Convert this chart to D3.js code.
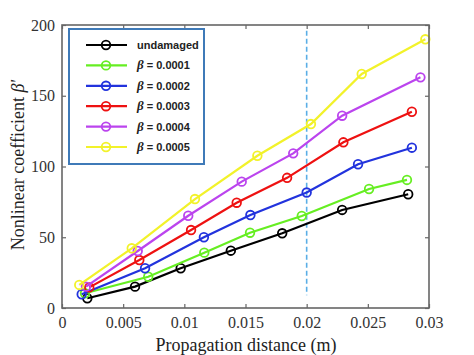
<!DOCTYPE html>
<html><head><meta charset="utf-8">
<script src="https://cdn.jsdelivr.net/npm/d3@7"></script>
<style>body{margin:0;background:#fff}</style>
</head><body><svg id="c" width="474" height="355"></svg>
<script>
const seriesNames = ["undamaged","0.0001","0.0002","0.0003","0.0004","0.0005"];
const seriesColors = ["#000000","#66ee22","#2233dd","#ee1111","#bb44ee","#f2f22a"];
const xUndamaged = [0.00207,0.00597,0.0097,0.0138,0.0180,0.0229,0.0283];
const yUndamaged = [6.9,15.1,28.1,40.5,52.8,69.3,80.4];
const x0001 = [0.00188,0.00705,0.01163,0.01537,0.0196,0.0251,0.0282];
const y0001 = [10.4,22.1,39.1,53.2,65.0,84.1,90.5];
const x0002 = [0.00161,0.00679,0.0116,0.0154,0.0200,0.0242,0.0286];
const y0002 = [9.7,28.1,50.0,65.7,81.6,101.6,113.3];
const x0003 = [0.00223,0.00632,0.01055,0.01428,0.0184,0.0230,0.0286];
const y0003 = [14.6,33.9,55.1,74.4,92.0,117.1,138.7];
const x0004 = [0.00196,0.00619,0.01032,0.01469,0.0189,0.0229,0.0293];
const y0004 = [15.1,40.3,65.2,89.3,109.3,135.9,163.0];
const x0005 = [0.00141,0.0057,0.01087,0.01597,0.02035,0.0245,0.0297];
const y0005 = [16.3,42.2,77.0,107.6,130.0,165.4,189.9];
const xTicks = [0,0.005,0.01,0.015,0.02,0.025,0.03];
const xTickLabels = ["0","0.005","0.01","0.015","0.02","0.025","0.03"];
const yTicks = [0,50,100,150,200];
const dashedX = 0.02;

const xs = [xUndamaged,x0001,x0002,x0003,x0004,x0005];
const ys = [yUndamaged,y0001,y0002,y0003,y0004,y0005];

const svg = d3.select("#c");
const L=62,R=429,T=25,B=308;
const x = d3.scaleLinear().domain([0,0.03]).range([L,R]);
const y = d3.scaleLinear().domain([0,200]).range([B,T]);
const axisColor="#666";
const serif="'Liberation Serif','Times New Roman',serif";

// dashed line
svg.append("line").attr("x1",x(dashedX)).attr("x2",x(dashedX))
  .attr("y1",y(196)).attr("y2",y(9)).attr("stroke","#5aaee6")
  .attr("stroke-width",1.6).attr("stroke-dasharray","5,3");

// series
const line = d3.line().x(d=>x(d[0])).y(d=>y(d[1]));
xs.forEach((xa,i)=>{
  const pts = xa.map((v,j)=>[v,ys[i][j]]);
  const g = svg.append("g");
  g.append("path").attr("d",line(pts)).attr("fill","none")
    .attr("stroke",seriesColors[i]).attr("stroke-width",2.2);
  g.selectAll("circle").data(pts).join("circle")
    .attr("cx",d=>x(d[0])).attr("cy",d=>y(d[1])).attr("r",4.3)
    .attr("fill","none").attr("stroke",seriesColors[i]).attr("stroke-width",1.8);
});

// frame
svg.append("rect").attr("x",L).attr("y",T).attr("width",R-L).attr("height",B-T)
  .attr("fill","none").attr("stroke",axisColor).attr("stroke-width",1.6);

// axes
const xa = d3.axisBottom(x).tickValues(xTicks).tickFormat((d,i)=>xTickLabels[i]).tickSizeInner(-4).tickSizeOuter(0).tickPadding(9);
const gx = svg.append("g").attr("transform",`translate(0,${B})`).call(xa);
const xt = d3.axisTop(x).tickValues(xTicks).tickFormat("").tickSizeInner(-4).tickSizeOuter(0);
const gxt = svg.append("g").attr("transform",`translate(0,${T})`).call(xt);
const ya = d3.axisLeft(y).tickValues(yTicks).tickSizeInner(-4).tickSizeOuter(0).tickPadding(7);
const gy = svg.append("g").attr("transform",`translate(${L},0)`).call(ya);
const yr = d3.axisRight(y).tickValues(yTicks).tickFormat("").tickSizeInner(-4).tickSizeOuter(0);
const gyr = svg.append("g").attr("transform",`translate(${R},0)`).call(yr);
[gx,gxt,gy,gyr].forEach(g=>{
  g.select(".domain").remove();
  g.selectAll(".tick line").attr("stroke",axisColor).attr("stroke-width",1.2);
  g.selectAll("text").attr("font-family",serif).attr("font-size",16).attr("fill","#333");
});

// axis labels
svg.append("text").attr("x",246).attr("y",351).attr("text-anchor","middle")
  .attr("font-family",serif).attr("font-size",18).attr("fill","#222")
  .text("Propagation distance (m)");
const yl = svg.append("text").attr("transform","translate(24,165) rotate(-90)")
  .attr("text-anchor","middle").attr("font-family",serif).attr("font-size",18).attr("fill","#222");
yl.append("tspan").text("Nonlinear coefficient ");
yl.append("tspan").attr("font-style","italic").text("β'");

// legend
const lg = svg.append("g");
lg.append("rect").attr("x",69).attr("y",29).attr("width",135).attr("height",135)
  .attr("fill","#fff").attr("stroke","#3f7ab8").attr("stroke-width",2);
seriesNames.forEach((n,i)=>{
  const yy = 45 + i*20.4;
  lg.append("line").attr("x1",86).attr("x2",127).attr("y1",yy).attr("y2",yy)
    .attr("stroke",seriesColors[i]).attr("stroke-width",2.2);
  lg.append("circle").attr("cx",106).attr("cy",yy).attr("r",4.3).attr("fill","none")
    .attr("stroke",seriesColors[i]).attr("stroke-width",1.8);
  const t = lg.append("text").attr("x",137).attr("y",yy+4).attr("font-family","'Liberation Sans',Arial,sans-serif")
    .attr("font-size",11).attr("font-weight","bold").attr("fill","#222");
  if(i===0){ t.text(n); }
  else {
    t.append("tspan").attr("font-style","italic").attr("font-family",serif).attr("font-size",13).text("β");
    t.append("tspan").text("  = "+n);
  }
});
</script></body></html>
